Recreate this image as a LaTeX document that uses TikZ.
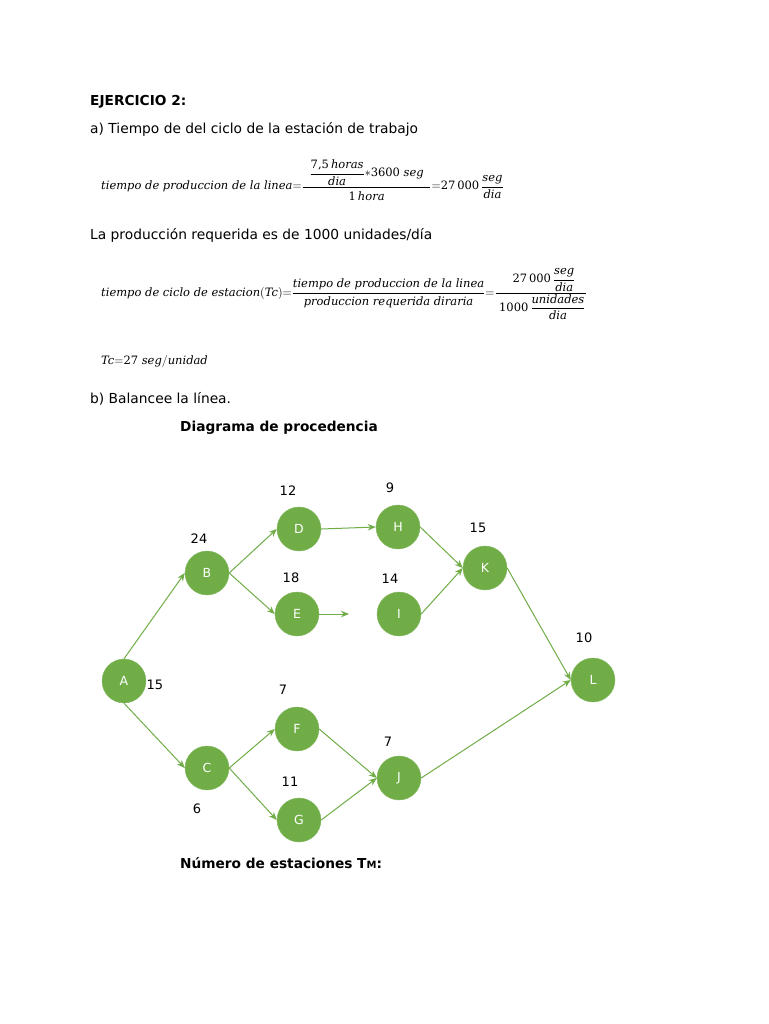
\documentclass[tikz,border=0pt]{standalone}
\usepackage{amsmath}
\usepackage[no-math]{fontspec}
\setmainfont{DejaVu Sans}
\newfontfamily\eqfont{DejaVu Serif}
\newcommand{\mi}[1]{\textnormal{\eqfont\itshape #1}}
\newcommand{\mn}[1]{\textnormal{\eqfont #1}}
\newcommand{\up}[1]{\rule[-#1]{0pt}{0pt}}
\newcommand{\dn}[1]{\rule{0pt}{#1}}
\usetikzlibrary{arrows.meta}
\definecolor{grn}{HTML}{70AD47}
\tikzset{
  task/.style={circle, fill=grn, draw=grn!85!white, minimum size=44pt, inner sep=0pt, text=white, font=\fontsize{12.5}{14}\selectfont},
  num/.style={font=\fontsize{13}{15}\selectfont, inner sep=0pt},
  body/.style={anchor=base west, inner sep=0pt, font=\fontsize{13.8}{16}\selectfont},
  heading/.style={anchor=base west, inner sep=0pt, font=\fontsize{13.7}{16}\selectfont\bfseries},
  eq/.style={anchor=base west, inner sep=0pt, font=\fontsize{11.5}{13}\selectfont},
  link/.style={draw=grn, line width=1pt, -{Stealth[length=8pt,width=6.5pt]}}
}
\begin{document}
\begin{tikzpicture}[x=1pt,y=-1pt]
\useasboundingbox[fill=white] (0,0) rectangle (768,1024);
% texts
\node[heading] (t1) at (90,106) {EJERCICIO 2:};
\node[body] (t2) at (90,134) {a) Tiempo de del ciclo de la estación de trabajo};
\node[eq] (e1) at (101,190) {$\mi{tiempo de produccion de la linea}{=}\dfrac{\;\;\dfrac{\mn{7,5}\,\mi{horas}\up{4pt}}{\mi{dia}}{*}\mn{3600}\ \mi{seg}\;\;\up{8pt}}{\mn{1}\,\mi{hora}\dn{12pt}}{=}\mn{27\,000}\,\dfrac{\mi{seg}}{\mi{dia}}$};
\node[body] (t3) at (90,240) {La producción requerida es de 1000 unidades/día};
\node[eq] (e2) at (101,296) {$\mi{tiempo de ciclo de estacion}(\mi{Tc}){=}\dfrac{\mi{tiempo de produccion de la linea}}{\mi{produccion requerida diraria}\dn{11pt}}{=}\dfrac{\;\;\mn{27\,000}\,\dfrac{\mi{seg}}{\mi{dia}}\up{5pt}}{\;\mn{1000}\,\dfrac{\mi{unidades}}{\mi{dia}}\dn{15pt}}$};
\node[eq] (e3) at (101,364) {$\mi{Tc}{=}\mn{27}\ \mi{seg}/\mi{unidad}$};
\node[body] (t4) at (90,403) {b) Balancee la línea.};
\node[heading] (t5) at (180,431) {Diagrama de procedencia};
\node[heading] (t6) at (180,868) {Número de estaciones T{\fontsize{10}{12}\selectfont M}:};
% nodes
\node[task] (A) at (124,681) {A};
\node[task] (B) at (207,573) {B};
\node[task] (C) at (207,768) {C};
\node[task] (D) at (299,529) {D};
\node[task] (E) at (297,614) {E};
\node[task] (F) at (297,729) {F};
\node[task] (G) at (299,820) {G};
\node[task] (H) at (398,527) {H};
\node[task] (I) at (399,614) {I};
\node[task] (J) at (399,778) {J};
\node[task] (K) at (485,568) {K};
\node[task] (L) at (593,680) {L};
\coordinate (Eend) at (349,614);
% times
\node[num] (nB) at (199,539) {24};
\node[num] (nD) at (288,491) {12};
\node[num] (nH) at (390,488) {9};
\node[num] (nK) at (478,528) {15};
\node[num] (nE) at (291,578) {18};
\node[num] (nI) at (390,579) {14};
\node[num] (nL) at (584,638) {10};
\node[num] (nA) at (155,685) {15};
\node[num] (nF) at (283,690) {7};
\node[num] (nJ) at (388,742) {7};
\node[num] (nG) at (290,782) {11};
\node[num] (nC) at (197,809) {6};
% links
\draw[link] (A.north) -- (B.west);
\draw[link] (A.south) -- (C.west);
\draw[link] (B.east) -- (D.west);
\draw[link] (B.east) -- (E.west);
\draw[link] (D.east) -- (H.west);
\draw[link] (E.east) -- (Eend);
\draw[link] (H.east) -- (K.west);
\draw[link] (I.east) -- (K.west);
\draw[link] (K.east) -- (L.west);
\draw[link] (C.east) -- (F.west);
\draw[link] (C.east) -- (G.west);
\draw[link] (F.east) -- (J.west);
\draw[link] (G.east) -- (J.west);
\draw[link] (J.east) -- (L.west);
\end{tikzpicture}
\end{document}
